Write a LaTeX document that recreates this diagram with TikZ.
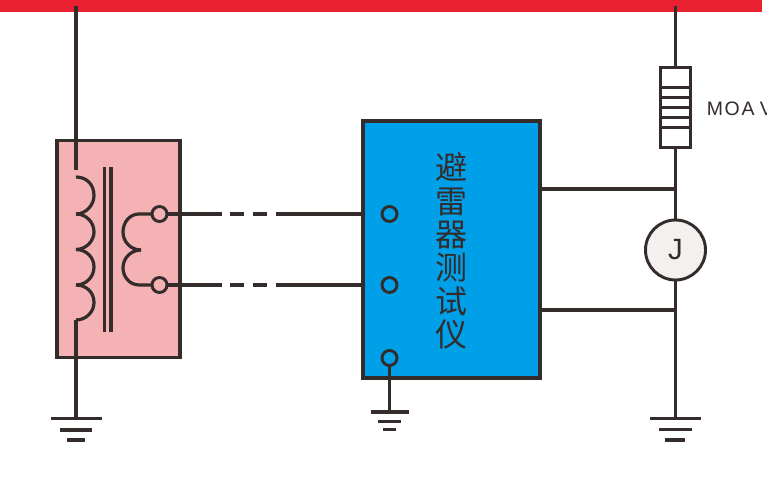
\documentclass[tikz,border=0pt]{standalone}
\usepackage{fontspec}
\setmainfont{Liberation Sans}
\newfontfamily\cjk{Noto Sans CJK SC}
\definecolor{wirec}{HTML}{332C2B}
\definecolor{busred}{HTML}{E8202F}
\definecolor{pinkbox}{HTML}{F4B2B4}
\definecolor{bluebox}{HTML}{00A0E9}
\definecolor{metergray}{HTML}{F2F1EF}
\tikzset{
  wire/.style={draw=wirec,line width=2.4pt},
  boxline/.style={draw=wirec,line width=2.7pt,outer sep=0pt},
  term/.style={circle,draw=wirec,line width=2.2pt,minimum size=15pt*0.75,inner sep=0pt,outer sep=0pt},
  bar/.style={draw=wirec,line width=2.4pt},
}
\begin{document}
\begin{tikzpicture}[x=0.75pt,y=-0.75pt]
\useasboundingbox (0,0) rectangle (768,491);
\fill[white] (0,0) rectangle (768,491);
\fill[busred] (0,0) rectangle (762,12.5);
% CT box
\node[boxline,fill=pinkbox,minimum width=123*0.75pt,minimum height=217*0.75pt,inner sep=0pt,anchor=north west] (ct) at (57,140.5) {};
% analyser box
\node[boxline,fill=bluebox,minimum width=177*0.75pt,minimum height=257*0.75pt,inner sep=0pt,anchor=north west] (tester) at (363,121) {};
\node[align=center,inner sep=0pt,text=wirec,font=\cjk\fontsize{24}{25}\selectfont] (title) at (451.5,251) {避\\[0pt]雷\\[0pt]器\\[0pt]测\\[0pt]试\\[0pt]仪};
% coordinates
\coordinate (gl) at (76,418);
\coordinate (gm) at (389.5,412);
\coordinate (gr) at (675.5,418);
\coordinate (topl) at (76,6);
\coordinate (topr) at (675.5,6);
% left primary
\coordinate (p0) at (76,170);
\coordinate (p1) at (76,177);
\coordinate (p2) at (76,214);
\coordinate (p3) at (76,249.5);
\coordinate (p4) at (76,285);
\coordinate (p5) at (76,320);
\draw[wire] (topl) -- (p0);
\draw[wire] (p1) .. controls (86,177) and (94,184) .. (94,195.5) .. controls (94,205) and (86,214) .. (p2);
\draw[wire] (p2) .. controls (86,214) and (94,222) .. (94,232) .. controls (94,241) and (86,249.5) .. (p3);
\draw[wire] (p3) .. controls (86,249.5) and (94,257) .. (94,267) .. controls (94,277) and (86,285) .. (p4);
\draw[wire] (p4) .. controls (86,285) and (94,292) .. (94,302.5) .. controls (94,312) and (86,320) .. (p5);
\draw[wire] (p5) -- (gl);
% core
\coordinate (c1a) at (104.5,167);\coordinate (c1b) at (104.5,332);
\coordinate (c2a) at (111,167);\coordinate (c2b) at (111,332);
\draw[wire] (c1a) -- (c1b);
\draw[wire] (c2a) -- (c2b);
% terminals on CT
\node[term,fill=pinkbox] (a1) at (159.5,214) {};
\node[term,fill=pinkbox] (a2) at (159.5,285) {};
\coordinate (sm) at (141,250);
\draw[wire] (a1.west) -- (139,214) .. controls (130,214) and (123,222) .. (123,232) .. controls (123,242) and (131,250) .. (sm);
\draw[wire] (sm) .. controls (131,250) and (123,258) .. (123,268) .. controls (123,277) and (130,285) .. (139,285) -- (a2.west);
% tester terminals
\node[term] (b1) at (389.5,214) {};
\node[term] (b2) at (389.5,285) {};
\node[term] (b3) at (389.5,358) {};
% dashed links
\coordinate (d1) at (222,214);\coordinate (d2) at (276,214);
\coordinate (e1) at (222,285);\coordinate (e2) at (276,285);
\draw[wire] (a1.east) -- (d1);
\draw[wire] (a2.east) -- (e1);
\draw[wire] (230,214) -- (244,214) (253,214) -- (267,214);
\draw[wire] (230,285) -- (244,285) (253,285) -- (267,285);
\draw[wire] (d2) -- (tester.west |- d2);
\draw[wire] (e2) -- (tester.west |- e2);
% tester ground
\draw[wire] (b3.south) -- (gm);
\draw[bar] (371,412) -- (409,412);
\draw[bar] (378,421.5) -- (401,421.5);
\draw[bar] (383,429.5) -- (396,429.5);
% left ground
\draw[bar] (51,418.5) -- (102,418.5);
\draw[bar] (60,430) -- (92,430);
\draw[bar] (67,440) -- (85,440);
% right branch
\node[boxline,fill=white,minimum width=30*0.75pt,minimum height=80*0.75pt,inner sep=0pt,anchor=north west] (moa) at (660.5,67.5) {};
\draw[wire] (topr) -- (topr |- moa.north);
\foreach \yy in {87.5,97.5,107.5,117.5,127.5}{\draw[wire] (661,\yy) -- (690,\yy);}
\node[circle,draw=wirec,line width=2.2pt,fill=metergray,minimum size=60*0.75pt,inner sep=0pt,outer sep=0pt,font=\fontsize{22}{23}\selectfont,text=wirec] (meter) at (675.5,250) {J};
\draw[wire] (topr |- moa.south) -- (meter.north);
\draw[wire] (meter.south) -- (gr);
\coordinate (j1) at (675.5,189);
\coordinate (j2) at (675.5,310);
\draw[wire] (tester.east |- j1) -- (j1);
\draw[wire] (tester.east |- j2) -- (j2);
\draw[bar] (650,418.5) -- (701,418.5);
\draw[bar] (659,429.5) -- (692,429.5);
\draw[bar] (665,440) -- (685,440);
\begin{scope}
\clip (700,90) rectangle (766,125);
\node[anchor=west,inner sep=0pt,text=wirec,font=\fontsize{14.6}{15}\selectfont] (moalabel) at (706.5,108.5) {M\hspace{1.3pt}O\hspace{1.3pt}A\hspace{4pt}V};
\end{scope}
\end{tikzpicture}
\end{document}
